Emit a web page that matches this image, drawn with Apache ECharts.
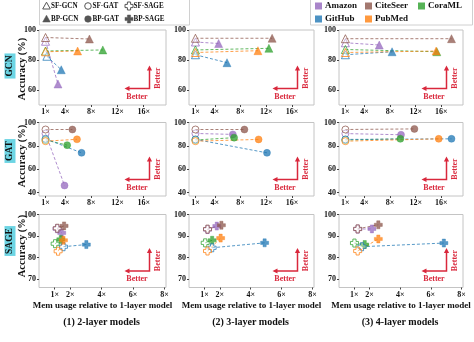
<!DOCTYPE html>
<html>
<head>
<meta charset="utf-8">
<script src="https://cdn.jsdelivr.net/npm/echarts@6/dist/echarts.min.js"></script>
<style>
  html, body { margin: 0; padding: 0; background: #fff; }
  #chart { width: 474px; height: 342px; }
</style>
</head>
<body>
<div id="chart"></div>
<script>
// datasets and colours
const datasets = ['Amazon', 'CiteSeer', 'CoraML', 'GitHub', 'PubMed'];
const colors = ['#9467bd', '#8c564b', '#2ca02c', '#1f77b4', '#ff7f0e'];

// tick labels
const memTicksWide = [1, 4, 8, 12, 16];
const memTicksSage = [1, 2, 4, 6, 8];
const accTicksGCN = [60, 80, 100];
const accTicksGAT = [40, 60, 80, 100];
const accTicksSAGE = [70, 80, 90, 100];

// each row: [SF mem, SF acc, BP mem, BP acc], in dataset order
const gcn2 = [[1, 92.5, 2.9, 64], [1, 95, 7.7, 94], [1, 86, 9.75, 86.7], [1.2, 82.5, 3.4, 73.5], [1, 85.5, 5.9, 86]];
const gcn3 = [[1, 92, 4.6, 91], [1, 94.5, 12.9, 94.5], [1, 86.7, 12.4, 87.8], [1, 83.5, 5.9, 78.2], [1, 85, 10.7, 86.2]];
const gcn4 = [[1, 91.5, 6.3, 90], [1, 94.2, 17.6, 94.2], [1, 87, 15.3, 85.5], [1, 83.5, 8.3, 85.5], [1, 85, 15.2, 86]];
const gat2 = [[1, 90.5, 3.9, 46], [1, 94, 5.1, 94], [1, 85, 4.3, 80.6], [1, 86, 6.5, 74], [1, 84, 5.8, 85.6]];
const gat3 = [[1, 90.6, 6.8, 89.8], [1, 94, 8.6, 94], [1, 85, 7.0, 87], [1, 85.5, 12.1, 74], [1, 84, 10.8, 85.5]];
const gat4 = [[1, 90.5, 9.7, 89.5], [1, 94, 11.8, 94.5], [1, 85, 9.6, 86], [1, 85.5, 17.6, 86], [1, 84, 15.6, 86]];
const sage2 = [[1.15, 93.4, 1.45, 91.4], [1.17, 93.6, 1.6, 94.7], [1.03, 86.4, 1.39, 88.4], [1.56, 85, 3.02, 86], [1.22, 82.9, 1.56, 88]];
const sage3 = [[1.2, 93, 1.8, 94.6], [1.2, 93.2, 2.1, 95], [1.05, 86.8, 1.5, 88], [1.5, 84.5, 4.9, 86.8], [1.2, 83, 2.05, 89]];
const sage4 = [[1.22, 93.2, 2.15, 93.3], [1.22, 93.3, 2.57, 95.2], [1.01, 86.7, 1.68, 86], [1.5, 85, 6.85, 86.7], [1.22, 83, 2.57, 88.6]];

const panels = [[gcn2, gcn3, gcn4], [gat2, gat3, gat4], [sage2, sage3, sage4]];
const rowNames = ['GCN', 'GAT', 'SAGE'];
const captions = ['(1) 2-layer models', '(2) 3-layer models', '(3) 4-layer models'];

const plusPath = 'path://M3,0L7,0L7,3L10,3L10,7L7,7L7,10L3,10L3,7L0,7L0,3L3,3Z';
const rowSymbol = ['triangle', 'circle', plusPath];
const rowSymbolSize = [8, 7, 8];

// layout
const colLeft = [39, 189, 339];
const colWidth = [127, 125, 124];
const rowTop = [30, 122.5, 214.5];
const rowHeight = [75, 73.5, 73];
const xRange = [[0, 19.4], [0, 19.4], [0, 8.1]];
const yRange = [[50, 100], [37, 100], [66, 100]];
const xTicks = [memTicksWide, memTicksWide, memTicksSage];
const yTicks = [accTicksGCN, accTicksGAT, accTicksSAGE];

const FONT = 'Liberation Serif';
const RED = '#d9283c';

const grids = [], xAxes = [], yAxes = [], series = [], graphics = [];

for (let r = 0; r < 3; r++) {
  for (let c = 0; c < 3; c++) {
    const idx = r * 3 + c;
    grids.push({
      left: colLeft[c], top: rowTop[r], width: colWidth[c], height: rowHeight[r],
      show: true, borderColor: '#c4c4c4', borderWidth: 1, backgroundColor: 'transparent'
    });
    xAxes.push({
      type: 'value', gridIndex: idx, min: xRange[r][0], max: xRange[r][1],
      axisLine: { show: false },
      splitLine: { show: false },
      axisTick: { show: true, customValues: xTicks[r], length: 2, lineStyle: { color: '#444' } },
      axisLabel: {
        customValues: xTicks[r], margin: 3, color: '#111', fontFamily: FONT,
        fontWeight: 'bold', fontSize: 8, formatter: v => v + '×'
      },
      name: r === 2 ? 'Mem usage relative to 1-layer model' : '',
      nameLocation: 'middle', nameGap: 14,
      nameTextStyle: { color: '#111', fontFamily: FONT, fontWeight: 'bold', fontSize: 9 }
    });
    yAxes.push({
      type: 'value', gridIndex: idx, min: yRange[r][0], max: yRange[r][1],
      axisLine: { show: false },
      splitLine: { show: false },
      axisTick: { show: true, customValues: yTicks[r], length: 2, lineStyle: { color: '#444' } },
      axisLabel: {
        customValues: yTicks[r], margin: 3, color: '#111', fontFamily: FONT,
        fontWeight: 'bold', fontSize: 8
      }
    });

    panels[r][c].forEach((row, d) => {
      const col = colors[d];
      series.push({
        type: 'line', name: datasets[d], xAxisIndex: idx, yAxisIndex: idx,
        symbol: rowSymbol[r], symbolSize: rowSymbolSize[r],
        lineStyle: { color: col, width: 1, type: [3, 2], opacity: 0.75 },
        data: [
          { value: [row[0], row[1]], itemStyle: { color: 'rgba(255,255,255,0.5)', borderColor: col, borderWidth: 1, opacity: 0.75 } },
          { value: [row[2], row[3]], itemStyle: { color: col, borderColor: col, borderWidth: 0.5, opacity: 0.75 } }
        ],
        z: 3
      });
    });

    // "Better" arrows in the lower right of each panel
    const R = colLeft[c] + colWidth[c];
    const B = rowTop[r] + rowHeight[r];
    const cx = R - 16.5, cy = B - 16.5;
    graphics.push(
      { type: 'polyline', shape: { points: [[cx - 21, cy], [cx, cy], [cx, cy - 19]] }, style: { stroke: RED, lineWidth: 1.5, fill: null } },
      { type: 'polygon', shape: { points: [[cx - 25, cy], [cx - 20, cy - 2.6], [cx - 20, cy + 2.6]] }, style: { fill: RED } },
      { type: 'polygon', shape: { points: [[cx, cy - 23], [cx - 2.6, cy - 18], [cx + 2.6, cy - 18]] }, style: { fill: RED } },
      { type: 'text', x: R - 29, y: B - 8.5, style: { text: 'Better', fill: RED, font: 'bold 8px "Liberation Serif"', textAlign: 'center', textVerticalAlign: 'middle' } },
      { type: 'text', x: R - 8.5, y: B - 27, rotation: Math.PI / 2, style: { text: 'Better', fill: RED, font: 'bold 8px "Liberation Serif"', textAlign: 'center', textVerticalAlign: 'middle' } }
    );
  }
}

// row labels with cyan box, and the y-axis title beside them
const rowLabelY = [66, 151, 241];
const accLabelY = [69, 156, 246];
rowNames.forEach((n, r) => {
  graphics.push({
    type: 'text', x: 10, y: rowLabelY[r], rotation: Math.PI / 2,
    style: {
      text: n, fill: '#111', font: 'bold 9.5px "Liberation Serif"',
      textAlign: 'center', textVerticalAlign: 'middle',
      backgroundColor: '#6dd5e4', padding: [1, 2, 0, 2]
    }
  });
  graphics.push({
    type: 'text', x: 22, y: accLabelY[r], rotation: Math.PI / 2,
    style: {
      text: 'Accuracy (%)', fill: '#111', font: 'bold 10.5px "Liberation Serif"',
      textAlign: 'center', textVerticalAlign: 'middle'
    }
  });
});

// panel captions
const captionX = [101.5, 250.5, 400];
captions.forEach((t, i) => {
  graphics.push({
    type: 'text', x: captionX[i], y: 322,
    style: { text: t, fill: '#111', font: 'bold 10px "Liberation Serif"', textAlign: 'center', textVerticalAlign: 'middle' }
  });
});

// legend of methods
const GRAY = '#555';
graphics.push({ type: 'rect', shape: { x: 39.5, y: -2, width: 150, height: 27 }, style: { fill: '#fff', stroke: '#d0d0d0', lineWidth: 1 } });
const methodNames = [['SF-GCN', 'SF-GAT', 'SF-SAGE'], ['BP-GCN', 'BP-GAT', 'BP-SAGE']];
const methodX = [46.5, 88, 129];
const methodY = [6, 19];
const legendFont = 'bold 8.5px "Liberation Serif"';
function plusPoints(x, y, s) {
  const a = s * 0.2, b = s * 0.5;
  return [[x - a, y - b], [x + a, y - b], [x + a, y - a], [x + b, y - a], [x + b, y + a], [x + a, y + a],
    [x + a, y + b], [x - a, y + b], [x - a, y + a], [x - b, y + a], [x - b, y - a], [x - a, y - a]];
}
for (let k = 0; k < 2; k++) {
  const y = methodY[k];
  const hollow = k === 0;
  const st = hollow ? { fill: '#fff', stroke: GRAY, lineWidth: 1 } : { fill: GRAY, stroke: GRAY, lineWidth: 0.5 };
  graphics.push({ type: 'polygon', shape: { points: [[methodX[0], y - 3.8], [methodX[0] - 3.8, y + 3], [methodX[0] + 3.8, y + 3]] }, style: st });
  graphics.push({ type: 'circle', shape: { cx: methodX[1], cy: y, r: 3.3 }, style: st });
  graphics.push({ type: 'polygon', shape: { points: plusPoints(methodX[2], y, 8) }, style: st });
  for (let j = 0; j < 3; j++) {
    graphics.push({
      type: 'text', x: methodX[j] + 4.5, y: y, scaleX: 0.84,
      style: { text: methodNames[k][j], fill: '#111', font: legendFont, textVerticalAlign: 'middle' }
    });
  }
}

// legend of datasets
graphics.push({ type: 'rect', shape: { x: 310.5, y: -2, width: 162, height: 27 }, style: { fill: '#fff', stroke: '#d0d0d0', lineWidth: 1 } });
const dsX = [315, 365, 418, 315, 365];
const dsY = [6, 6, 6, 19, 19];
datasets.forEach((n, d) => {
  graphics.push({ type: 'rect', shape: { x: dsX[d], y: dsY[d] - 3.5, width: 7, height: 7 }, style: { fill: colors[d], opacity: 0.8 } });
  graphics.push({ type: 'text', x: dsX[d] + 10, y: dsY[d], style: { text: n, fill: '#111', font: 'bold 9px "Liberation Serif"', textVerticalAlign: 'middle' } });
});

const chart = echarts.init(document.getElementById('chart'));
chart.setOption({
  animation: false,
  backgroundColor: '#fff',
  grid: grids,
  xAxis: xAxes,
  yAxis: yAxes,
  series: series,
  graphic: graphics
});
</script>
</body>
</html>
